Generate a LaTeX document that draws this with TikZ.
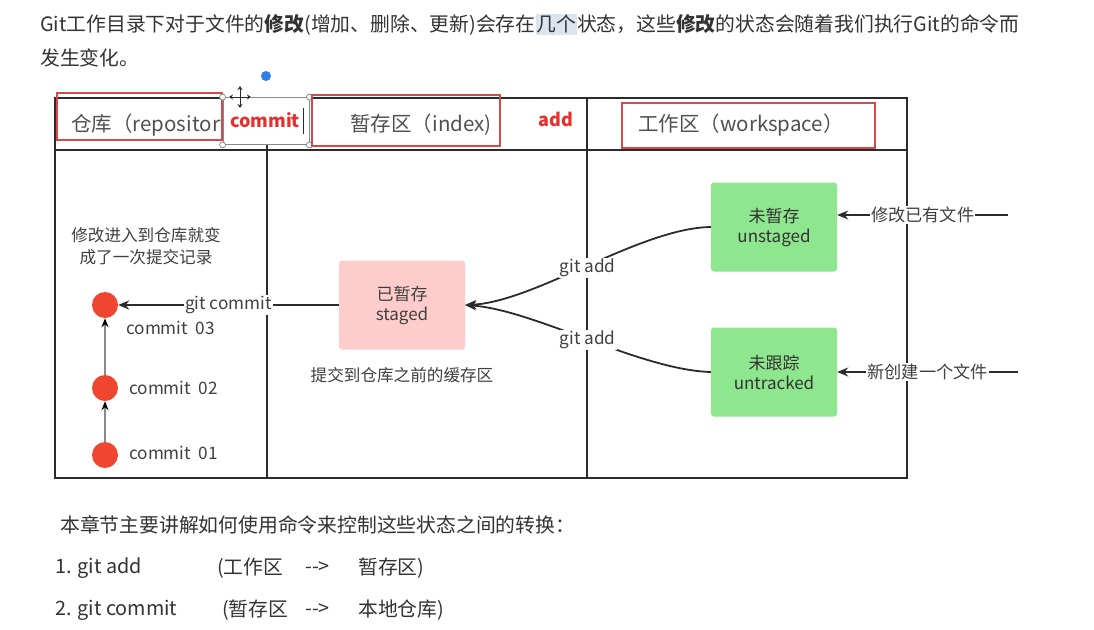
\documentclass[tikz,border=0pt]{standalone}
\usepackage{fontspec}
\setmainfont{Noto Sans CJK SC}
\usetikzlibrary{arrows.meta}
\definecolor{tblc}{HTML}{2B2B2B}
\definecolor{redbx}{HTML}{D24A4A}
\definecolor{redtx}{HTML}{E8302A}
\definecolor{dotred}{HTML}{F0452F}
\definecolor{pinkf}{HTML}{FFCCCC}
\definecolor{greenf}{HTML}{8EE68E}
\definecolor{hdrc}{HTML}{505050}
\definecolor{lblc}{HTML}{404040}
\definecolor{grayln}{HTML}{8A8A8A}
\definecolor{hlc}{HTML}{DCE4EE}
\definecolor{bluedot}{HTML}{2F7FEA}
\definecolor{bodyc}{HTML}{333333}
\tikzset{
  tbl/.style={draw=tblc, line width=2.2pt},
  redbox/.style={draw=redbx, line width=1.5pt},
  hdr/.style={text=hdrc, font=\fontsize{20.5}{24}\selectfont, inner sep=0pt},
  redbold/.style={text=redtx, font=\fontsize{18}{21}\selectfont\bfseries, inner sep=0pt},
  lbl/.style={text=lblc, font=\fontsize{17.2}{21}\selectfont, inner sep=1pt},
  captxt/.style={text=lblc, font=\fontsize{16.6}{22}\selectfont, inner sep=0pt, align=center},
  body/.style={text=bodyc, font=\fontsize{19.8}{24}\selectfont, inner sep=0pt},
  statebox/.style={rounded corners=3pt, minimum width=126pt, minimum height=89pt, align=center, text=lblc, font=\fontsize{17}{20}\selectfont, inner sep=0pt},
  commitdot/.style={circle, fill=dotred, minimum size=26pt, inner sep=0pt},
  garrow/.style={draw=grayln, line width=1.6pt, -{Stealth[length=9pt,width=7pt,color=black]}},
  barrow/.style={draw=tblc, line width=1.8pt, -{Stealth[length=11pt,width=9pt]}},
  handle/.style={circle, draw=grayln, fill=white, minimum size=6pt, inner sep=0pt, line width=0.8pt},
}
\begin{document}
\begin{tikzpicture}[x=1pt,y=-1pt]
\useasboundingbox (0,0) rectangle (1094,629);
\fill[white] (0,0) rectangle (1094,629);

% top paragraph
\node[body, anchor=west] (p1) at (40,25) {Git工作目录下对于文件的\textbf{修改}(增加、删除、更新)会存在{\setlength{\fboxsep}{1pt}\colorbox{hlc}{几个}}状态，这些\textbf{修改}的状态会随着我们执行Git的命令而};
\node[body, anchor=west] (p2) at (40,58) {发生变化。};

% table
\draw[tbl] (55,98) rectangle (907,478);
\draw[tbl] (55,150) -- (907,150);
\draw[tbl] (267,98) -- (267,478);
\draw[tbl] (587,98) -- (587,478);

% header
\node[hdr, anchor=west] (repo) at (71,125) {仓库（repository）};
\draw[redbox] (57,93) rectangle (222,140);
\node[draw=grayln, fill=white, line width=0.8pt, minimum width=86pt, minimum height=47pt, inner sep=0pt] (sel) at (266,121) {};
\node[redbold] (cm) at (265,120) {commit};
\draw[tblc, line width=0.8pt] (303,108) -- (303,134);
\node[handle] (h1) at (sel.north west) {};
\node[handle] (h2) at (sel.south west) {};
\node[handle] (h3) at (sel.north east) {};
\node[handle] (h4) at (sel.south east) {};
\node[hdr] (idx) at (421,125) {暂存区（index)};
\draw[redbox] (312,95) rectangle (500,146);
\node[redbold] (add) at (556,119) {add};
\node[hdr] (ws) at (741,125) {工作区（workspace）};
\draw[redbox] (622,103) rectangle (875,148);

% blue dot and move cursor
\fill[bluedot] (266,76) circle (5);
\coordinate (mv) at (240,97);
\draw[white, line width=3.2pt] ([xshift=-11pt]mv) -- ([xshift=11pt]mv) ([yshift=-11pt]mv) -- ([yshift=11pt]mv);
\draw[tblc, line width=0.9pt, {Stealth[length=4pt,width=5pt]}-{Stealth[length=4pt,width=5pt]}] ([xshift=-11pt]mv) -- ([xshift=11pt]mv);
\draw[tblc, line width=0.9pt, {Stealth[length=4pt,width=5pt]}-{Stealth[length=4pt,width=5pt]}] ([yshift=-11pt]mv) -- ([yshift=11pt]mv);

% repository column
\node[captxt] (note) at (146,246) {修改进入到仓库就变\\成了一次提交记录};
\node[commitdot] (c3) at (105,305) {};
\node[commitdot] (c2) at (105,388) {};
\node[commitdot] (c1) at (105,455) {};
\node[lbl, anchor=west] (l3) at (125,328) {commit\ \ 03};
\node[lbl, anchor=west] (l2) at (128,388) {commit\ \ 02};
\node[lbl, anchor=west] (l1) at (128,453) {commit\ \ 01};
\draw[garrow] (c1) -- (c2);
\draw[garrow] (c2) -- (c3);

% staged
\node[statebox, fill=pinkf] (st) at (402,305) {已暂存\\staged};
\node[captxt] (stcap) at (402,375) {提交到仓库之前的缓存区};
\draw[barrow] (st) -- node[lbl, fill=white] {git commit} (c3);

% workspace states
\node[statebox, fill=greenf, text=bodyc] (un) at (774,227) {未暂存\\unstaged};
\node[statebox, fill=greenf, text=bodyc] (ut) at (774,372) {未跟踪\\untracked};
\coordinate (in1) at (1008,215);
\coordinate (in2) at (1018,372);
\draw[barrow] (in1) -- node[lbl, fill=white] {修改已有文件} (un.east |- in1);
\draw[barrow] (in2) -- node[lbl, fill=white] {新创建一个文件} (ut);
\draw[barrow] (un.west) .. controls (640,228) and (535,302) .. (st.east) node[pos=0.5, lbl, fill=white, yshift=-3pt] {git add};
\draw[barrow] (ut.west) .. controls (640,370) and (535,310) .. (st.east) node[pos=0.5, lbl, fill=white] {git add};

% bottom text
\node[body, anchor=west] (b0) at (60,525) {本章节主要讲解如何使用命令来控制这些状态之间的转换：};
\node[body, anchor=west] (b1a) at (55,568) {1. git add};
\node[body, anchor=west] (b1b) at (217,568) {(工作区};
\node[body, anchor=west] (b1c) at (305,568) {-{}->};
\node[body, anchor=west] (b1d) at (358,568) {暂存区)};
\node[body, anchor=west] (b2a) at (55,610) {2. git commit};
\node[body, anchor=west] (b2b) at (222,610) {(暂存区};
\node[body, anchor=west] (b2c) at (305,610) {-{}->};
\node[body, anchor=west] (b2d) at (358,610) {本地仓库)};
\end{tikzpicture}
\end{document}
